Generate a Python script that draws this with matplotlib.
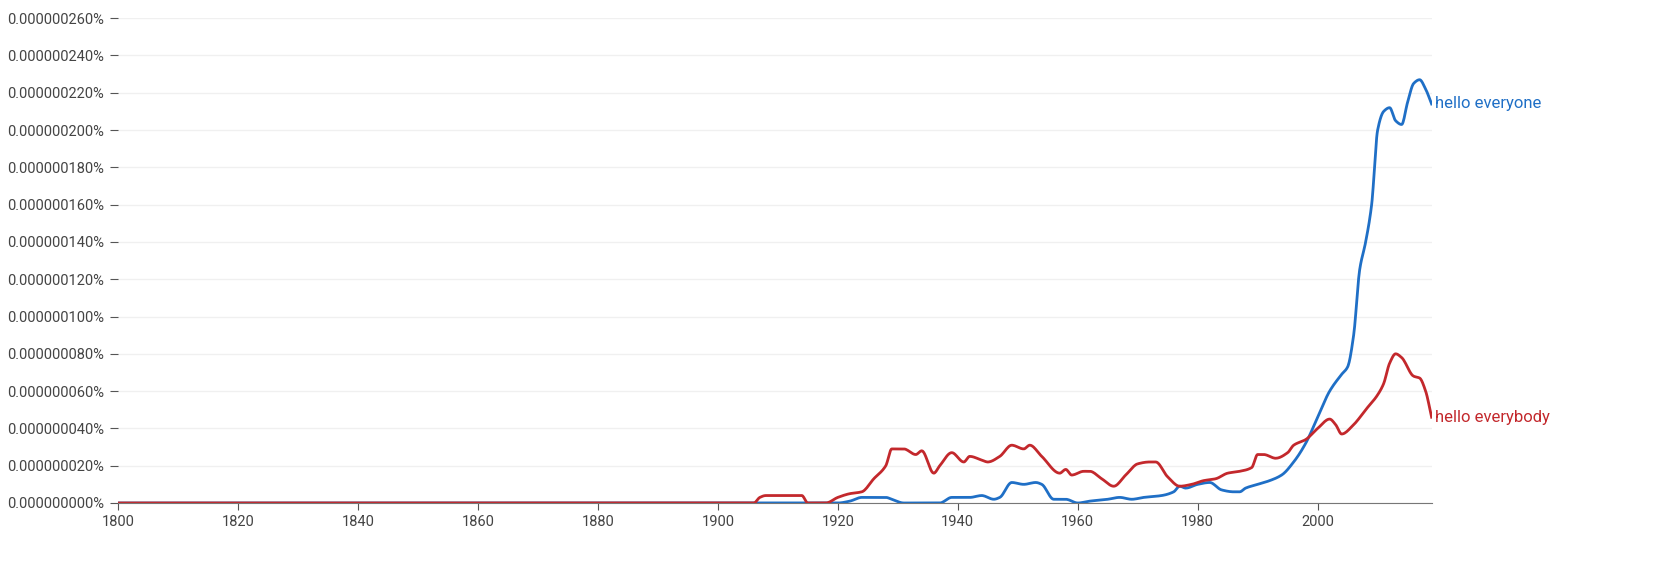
import numpy as np
import matplotlib
import matplotlib.pyplot as plt

matplotlib.use('agg')
plt.rcParams['font.family'] = ['Roboto', 'DejaVu Sans']

# values in units of 1e-6 percent (0.02 -> 0.000000020%)
everybody_years = [1800, 1906, 1907, 1908, 1914, 1915, 1918, 1920, 1922, 1924, 1926, 1928, 1929, 1931,
                   1933, 1934, 1936, 1937, 1939, 1941, 1942, 1944, 1945, 1947, 1949, 1951, 1952,
                   1954, 1957, 1958, 1959, 1961, 1962, 1964, 1966, 1968, 1970, 1972, 1973, 1975,
                   1977, 1979, 1981, 1983, 1985, 1987, 1989, 1990, 1991, 1993, 1995, 1996, 1998,
                   2000, 2002, 2003, 2004, 2006, 2008, 2010, 2011, 2012, 2013, 2014, 2016, 2017,
                   2018, 2019]
everybody_vals = [0, 0, 0.003, 0.004, 0.004, 0.0, 0.0, 0.003, 0.005, 0.006, 0.013, 0.02, 0.029, 0.029,
                  0.026, 0.028, 0.016, 0.02, 0.027, 0.022, 0.025, 0.023, 0.022, 0.025, 0.031, 0.029, 0.031,
                  0.025, 0.016, 0.018, 0.015, 0.017, 0.017, 0.013, 0.009, 0.015, 0.021, 0.022, 0.022, 0.014,
                  0.009, 0.010, 0.012, 0.013, 0.016, 0.017, 0.019, 0.026, 0.026, 0.024, 0.027, 0.031, 0.034,
                  0.040, 0.045, 0.042, 0.037, 0.042, 0.050, 0.058, 0.064, 0.075, 0.080, 0.078, 0.068, 0.067,
                  0.060, 0.046]

everyone_years = [1800, 1920, 1922, 1924, 1928, 1929, 1931, 1937, 1939, 1942, 1944, 1946, 1947, 1949,
                  1951, 1953, 1954, 1956, 1958, 1960, 1962, 1965, 1967, 1969, 1971, 1974, 1976, 1977,
                  1978, 1980, 1982, 1984, 1986, 1987, 1988, 1990, 1992, 1994, 1996, 1998, 2000, 2002,
                  2004, 2005, 2006, 2007, 2008, 2009, 2010, 2011, 2012, 2013, 2014, 2015, 2016, 2017,
                  2018, 2019]
everyone_vals = [0, 0, 0.001, 0.003, 0.003, 0.002, 0.0, 0.0, 0.003, 0.003, 0.004, 0.002, 0.003, 0.011,
                 0.010, 0.011, 0.010, 0.002, 0.002, 0.0, 0.001, 0.002, 0.003, 0.002, 0.003, 0.004, 0.006, 0.009,
                 0.008, 0.010, 0.011, 0.007, 0.006, 0.006, 0.008, 0.010, 0.012, 0.015, 0.022, 0.032, 0.046, 0.060,
                 0.069, 0.073, 0.090, 0.125, 0.140, 0.160, 0.200, 0.210, 0.212, 0.205, 0.203, 0.215, 0.225, 0.227,
                 0.222, 0.214]

blue = '#1f6fc6'
red = '#c3282c'


def smooth(xs, ys, n=12):
    # monotone cubic (Fritsch-Carlson) through the read points, just for drawing
    x = np.asarray(xs, float)
    y = np.asarray(ys, float)
    h = np.diff(x)
    d = np.diff(y) / h
    m = np.zeros_like(y)
    m[0], m[-1] = d[0], d[-1]
    for i in range(1, len(y) - 1):
        if d[i - 1] * d[i] > 0:
            w1 = 2 * h[i] + h[i - 1]
            w2 = h[i] + 2 * h[i - 1]
            m[i] = (w1 + w2) / (w1 / d[i - 1] + w2 / d[i])
    px, py = [], []
    for i in range(len(h)):
        t = np.linspace(0, 1, n, endpoint=False)
        h00 = 2 * t**3 - 3 * t**2 + 1
        h10 = t**3 - 2 * t**2 + t
        h01 = -2 * t**3 + 3 * t**2
        h11 = t**3 - t**2
        px.extend(x[i] + t * h[i])
        py.extend(h00 * y[i] + h10 * h[i] * m[i] + h01 * y[i + 1] + h11 * h[i] * m[i + 1])
    px.append(x[-1])
    py.append(y[-1])
    return px, py


fig = plt.figure(figsize=(16.67, 5.69), dpi=100)
ax = fig.add_axes([0.0708, 0.116, 0.788, 0.852])
ax.plot(*smooth(everyone_years, everyone_vals), color=blue, lw=2)
ax.plot(*smooth(everybody_years, everybody_vals), color=red, lw=2)
ax.text(2019.6, everyone_vals[-1], 'hello everyone', color=blue, fontsize=12, va='center')
ax.text(2019.6, everybody_vals[-1], 'hello everybody', color=red, fontsize=12, va='center')

ax.set_xlim(1800, 2019)
ax.set_ylim(0, 0.26)
ax.set_xticks(range(1800, 2020, 20))
yt = np.arange(0, 0.2601, 0.02)
ax.set_yticks(yt)
ax.set_yticklabels([f'{v * 1e-6:.9f}%' for v in yt])
ax.grid(axis='y', color='#f0f0f0', lw=1)
ax.set_axisbelow(True)
for s in ['top', 'right', 'left']:
    ax.spines[s].set_visible(False)
ax.spines['bottom'].set_color('#777777')
ax.tick_params(axis='y', length=6, color='#555555', labelsize=10.5, labelcolor='#444444', pad=4)
ax.tick_params(axis='x', length=5, color='#555555', labelsize=10.5, labelcolor='#444444')

fig.savefig('out.png', dpi=100, facecolor='white')
